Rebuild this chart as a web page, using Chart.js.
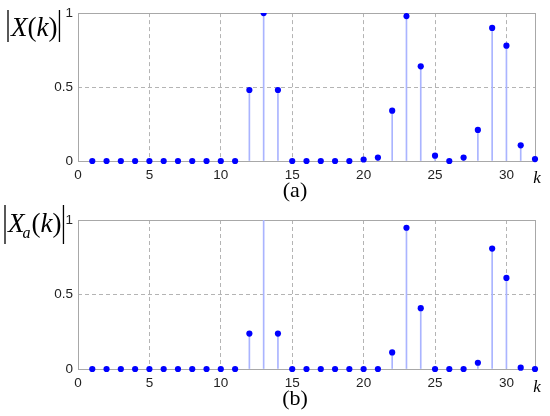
<!DOCTYPE html>
<html>
<head>
<meta charset="utf-8">
<script src="https://cdn.jsdelivr.net/npm/chart.js@4.4.0/dist/chart.umd.min.js"></script>
<style>
  body { margin: 0; background: #fff; }
  #wrap { position: relative; width: 550px; height: 416px; }
  canvas { position: absolute; left: 0; }
</style>
</head>
<body>
<div id="wrap">
  <canvas id="chartA" width="550" height="206" style="top:0"></canvas>
  <canvas id="chartB" width="550" height="214" style="top:202px"></canvas>
</div>
<script>
  // data
  const kValues = [1,2,3,4,5,6,7,8,9,10,11,12,13,14,15,16,17,18,19,20,21,22,23,24,25,26,27,28,29,30,31,32];
  const magX  = [0,0,0,0,0,0,0,0,0,0,0,0.48,1.0,0.48,0,0,0,0,0,0.01,0.023,0.34,0.98,0.64,0.036,0,0.023,0.21,0.90,0.78,0.106,0.013];
  const magXa = [0,0,0,0,0,0,0,0,0,0,0,0.238,1.5,0.238,0,0,0,0,0,0,0,0.111,0.948,0.408,0,0,0,0.042,0.808,0.611,0.009,0];
  const xTicks = [0,5,10,15,20,25,30];
  const yTicks = [0,0.5,1];

  const stemColor = 'rgb(170,180,255)';
  const dotColor = '#0000ff';
  const gridColor = '#b4b4b4';
  const boxColor = '#a8a8a8';

  function toPoints(vals) {
    return kValues.map((k, i) => ({ x: k, y: vals[i] }));
  }

  // plot box
  const boxPlugin = {
    id: 'box',
    beforeDatasetsDraw(chart) {
      const a = chart.chartArea;
      const c = chart.ctx;
      c.save();
      c.strokeStyle = boxColor;
      c.lineWidth = 1;
      c.strokeRect(Math.round(a.left) + 0.5, Math.round(a.top) + 0.5, Math.round(a.right - a.left), Math.round(a.bottom - a.top));
      c.restore();
    }
  };

  // titles and labels
  const textPlugin = {
    id: 'texts',
    afterDraw(chart) {
      const o = chart.options.plugins.texts;
      const c = chart.ctx;
      c.save();
      c.fillStyle = '#000';
      c.textBaseline = 'alphabetic';
      // y title |X(k)| built from pieces
      let x = o.titleX;
      const base = o.titleBase;
      const startX = x;
      x += 3;
      o.pieces.forEach(p => {
        c.font = p.font;
        c.fillText(p.t, x, base + (p.dy || 0));
        x += c.measureText(p.t).width + (p.gap || 0);
      });
      c.strokeStyle = '#000';
      c.lineWidth = 1.3;
      c.beginPath();
      c.moveTo(startX, o.barTop); c.lineTo(startX, o.barBottom);
      c.moveTo(x + 2, o.barTop); c.lineTo(x + 2, o.barBottom);
      c.stroke();
      // k label
      c.font = 'italic 17px "Liberation Serif"';
      c.textAlign = 'center';
      c.textBaseline = 'middle';
      c.fillText('k', 537, o.kY);
      // panel label
      c.font = '22px "Liberation Serif"';
      c.fillText(o.label, 295, o.labelY);
      c.restore();
    }
  };

  function makeChart(id, vals, top, axisH, texts) {
    return new Chart(document.getElementById(id), {
      data: {
        datasets: [
          {
            type: 'scatter',
            data: toPoints(vals),
            backgroundColor: dotColor,
            borderColor: dotColor,
            pointRadius: 3.1,
            pointHoverRadius: 3.1,
            borderWidth: 0,
            order: 0,
            clip: { left: 6, right: 6, bottom: 6, top: 0 }
          },
          {
            type: 'bar',
            data: toPoints(vals),
            backgroundColor: stemColor,
            barThickness: 1,
            order: 1,
            clip: 0
          }
        ]
      },
      options: {
        responsive: false,
        animation: false,
        events: [],
        layout: { padding: { left: 0, right: 15, top: top, bottom: 0 } },
        plugins: {
          legend: { display: false },
          tooltip: { enabled: false },
          texts: texts
        },
        scales: {
          x: {
            type: 'linear',
            offset: false,
            min: 0,
            max: 32,
            afterBuildTicks(scale) { scale.ticks = xTicks.map(v => ({ value: v })); },
            afterFit(scale) { scale.height = axisH; },
            ticks: { padding: 6, color: '#222', font: { family: 'Liberation Sans', size: 13.5 }, maxRotation: 0 },
            grid: { color: gridColor, drawTicks: false, lineWidth: 1, offset: false },
            border: { display: false, dash: [4, 3] }
          },
          y: {
            min: 0,
            max: 1,
            afterBuildTicks(scale) { scale.ticks = yTicks.map(v => ({ value: v })); },
            afterFit(scale) { scale.width = 78; },
            ticks: {
              padding: 5, color: '#222', font: { family: 'Liberation Sans', size: 13.5 },
              callback: v => String(v)
            },
            grid: { color: gridColor, drawTicks: false, lineWidth: 1 },
            border: { display: false, dash: [4, 3] }
          }
        }
      },
      plugins: [boxPlugin, textPlugin]
    });
  }

  makeChart('chartA', magX, 12, 45, {
    titleX: 8, titleBase: 36, barTop: 10, barBottom: 42,
    pieces: [
      { t: 'X', font: 'italic 27px "Liberation Serif"', gap: 0 },
      { t: '(', font: '27px "Liberation Serif"' },
      { t: 'k', font: 'italic 27px "Liberation Serif"' },
      { t: ')', font: '27px "Liberation Serif"' }
    ],
    kY: 179, label: '(a)', labelY: 191
  });

  makeChart('chartB', magXa, 18, 47, {
    titleX: 5, titleBase: 30, barTop: 3, barBottom: 42,
    pieces: [
      { t: 'X', font: 'italic 27px "Liberation Serif"', gap: -2 },
      { t: 'a', font: 'italic 16px "Liberation Serif"', dy: 6, gap: 1 },
      { t: '(', font: '27px "Liberation Serif"' },
      { t: 'k', font: 'italic 27px "Liberation Serif"' },
      { t: ')', font: '27px "Liberation Serif"' }
    ],
    kY: 186, label: '(b)', labelY: 197
  });
</script>
</body>
</html>
